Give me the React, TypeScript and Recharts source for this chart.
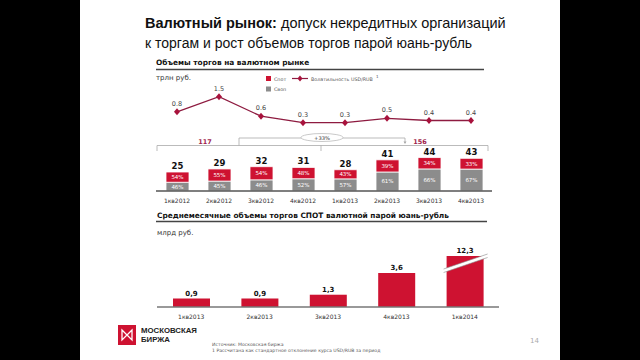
import React from 'react';
import { BarChart, Bar, XAxis, YAxis, LineChart, Line, LabelList } from 'recharts';

// ---- data ----
const quarters = ['1кв2012', '2кв2012', '3кв2012', '4кв2012', '1кв2013', '2кв2013', '3кв2013', '4кв2013'];
const volatility = [0.8, 1.5, 0.6, 0.3, 0.3, 0.5, 0.4, 0.4];
const totals = [25, 29, 32, 31, 28, 41, 44, 43];
const spotPct = [54, 55, 54, 48, 43, 39, 34, 33];
const swapPct = [46, 45, 46, 52, 57, 61, 66, 67];

const cnyQuarters = ['1кв2013', '2кв2013', '3кв2013', '4кв2013', '1кв2014'];
const cnySpot = [0.9, 0.9, 1.3, 3.6, 12.3];
const CNY_AXIS_CAP = 5.4; // axis break level

const sum2012 = totals.slice(0, 4).reduce((a, b) => a + b, 0);
const sum2013 = totals.slice(4).reduce((a, b) => a + b, 0);
const growth = Math.round((sum2013 / sum2012 - 1) * 100);

const volRows = quarters.map((q, i) => ({ cat: q, vol: volatility[i] }));
const barRows = quarters.map((q, i) => ({
  cat: q,
  total: totals[i],
  spotPct: spotPct[i],
  swapPct: swapPct[i],
  spot: (totals[i] * spotPct[i]) / 100,
  swap: (totals[i] * swapPct[i]) / 100,
}));
const cnyRows = cnyQuarters.map((q, i) => ({
  cat: q,
  value: cnySpot[i],
  shown: Math.min(cnySpot[i], CNY_AXIS_CAP),
}));

const RED = '#CE1231';
const GREY = '#8C8C8C';
const MAROON = '#8E1B40';
const FONT = '"DejaVu Sans", Verdana, sans-serif';
const TITLE_FONT = '"Liberation Sans", Arial, sans-serif';

const Diamond = (props: any) => {
  const { cx, cy, index } = props;
  if (cx == null || cy == null) return null;
  return (
    <path
      key={'d' + index}
      d={`M${cx},${cy - 3.5}L${cx + 3},${cy}L${cx},${cy + 3.5}L${cx - 3},${cy}Z`}
      fill="#A8123C"
    />
  );
};

const BrokenBar = (props: any) => {
  const { x, y, width, height, payload } = props;
  const broken = payload && payload.value > payload.shown;
  return (
    <g>
      <rect x={x} y={y} width={width} height={height} fill={RED} />
      {broken && (
        <g>
          <path
            d={`M${x - 3},${y + 13}L${x + width + 4},${y - 2}L${x + width + 4},${y + 1.5}L${x - 3},${y + 16.5}Z`}
            fill="#fff"
          />
          <path d={`M${x - 3},${y + 13}L${x + width + 4},${y - 2}`} stroke="#888" strokeWidth={0.6} />
          <path d={`M${x - 3},${y + 16.5}L${x + width + 4},${y + 1.5}`} stroke="#888" strokeWidth={0.6} />
        </g>
      )}
    </g>
  );
};

export default function App() {
  return (
    <div style={{ position: 'absolute', left: 0, top: 0, width: 640, height: 360, background: '#000', overflow: 'hidden' }}>
      <div style={{ position: 'absolute', left: 80, top: 0, width: 480, height: 360, background: '#fff' }} />

      {/* volatility line */}
      <div style={{ position: 'absolute', left: 156, top: 75 }}>
        <LineChart width={336} height={65} data={volRows} margin={{ top: 0, right: 0, bottom: 0, left: 0 }}>
          <XAxis dataKey="cat" hide padding={{ left: 21, right: 21 }} />
          <YAxis hide domain={[-0.5, 2.5]} />
          <Line dataKey="vol" stroke={MAROON} strokeWidth={1.3} dot={Diamond} isAnimationActive={false}>
            <LabelList
              dataKey="vol"
              position="top"
              offset={6}
              formatter={(v: any) => Number(v).toFixed(1)}
              style={{ fontSize: 6.5, fill: '#444', fontFamily: FONT }}
            />
          </Line>
        </LineChart>
      </div>

      {/* volumes stacked bars */}
      <div style={{ position: 'absolute', left: 156, top: 133 }}>
        <BarChart width={336} height={78} data={barRows} margin={{ top: 20, right: 0, bottom: 0, left: 0 }} barSize={23}>
          <XAxis
            dataKey="cat"
            axisLine={{ stroke: '#555', strokeWidth: 1.5 }}
            tickLine={false}
            interval={0}
            height={20}
            tick={{ fontSize: 6, fill: '#333', fontFamily: FONT }}
          />
          <YAxis hide domain={[0, 50]} />
          <Bar dataKey="swap" stackId="a" fill={GREY} stroke="#fff" strokeWidth={0.8} isAnimationActive={false}>
            <LabelList
              dataKey="swapPct"
              position="center"
              formatter={(v: any) => v + '%'}
              style={{ fontSize: 5.5, fill: '#fff', fontFamily: FONT }}
            />
          </Bar>
          <Bar dataKey="spot" stackId="a" fill={RED} stroke="#fff" strokeWidth={0.8} isAnimationActive={false}>
            <LabelList
              dataKey="spotPct"
              position="center"
              formatter={(v: any) => v + '%'}
              style={{ fontSize: 5.5, fill: '#fff', fontFamily: FONT }}
            />
            <LabelList
              dataKey="total"
              position="top"
              offset={3}
              style={{ fontSize: 8.5, fill: '#111', fontWeight: 'bold', fontFamily: FONT }}
            />
          </Bar>
        </BarChart>
      </div>

      {/* CNY spot bars */}
      <div style={{ position: 'absolute', left: 157, top: 240 }}>
        <BarChart width={342} height={83} data={cnyRows} margin={{ top: 16, right: 0, bottom: 0, left: 0 }} barSize={37}>
          <XAxis
            dataKey="cat"
            axisLine={{ stroke: '#777', strokeWidth: 1.5 }}
            tickLine={false}
            interval={0}
            height={16}
            tick={{ fontSize: 6, fill: '#333', fontFamily: FONT }}
          />
          <YAxis hide domain={[0, CNY_AXIS_CAP]} />
          <Bar dataKey="shown" fill={RED} shape={BrokenBar} isAnimationActive={false}>
            <LabelList
              dataKey="value"
              position="top"
              offset={3}
              formatter={(v: any) => String(v).replace('.', ',')}
              style={{ fontSize: 7, fill: '#111', fontWeight: 'bold', fontFamily: FONT }}
            />
          </Bar>
        </BarChart>
      </div>

      {/* slide texts and annotations */}
      <svg width={640} height={360} style={{ position: 'absolute', left: 0, top: 0, pointerEvents: 'none' }}>
        <text x={145} y={28} fontFamily={TITLE_FONT} fontSize={14.5} fill="#111">
          <tspan fontWeight="bold">Валютный рынок:</tspan> допуск некредитных организаций
        </text>
        <text x={145} y={48} fontFamily={TITLE_FONT} fontSize={14} fill="#111">
          к торгам и рост объемов торгов парой юань-рубль
        </text>

        <text x={156} y={65} fontFamily={FONT} fontSize={7.4} fontWeight="bold" fill="#111">
          Объемы торгов на валютном рынке
        </text>
        <line x1={156} y1={69.5} x2={484} y2={69.5} stroke="#444" strokeWidth={1.5} />
        <text x={156} y={80} fontFamily={FONT} fontSize={7} fill="#333">трлн руб.</text>

        {/* legend */}
        <rect x={266} y={76} width={5} height={5} fill={RED} />
        <text x={274} y={80.5} fontFamily={FONT} fontSize={4.8} fill="#555">Спот</text>
        <line x1={292} y1={78.5} x2={308} y2={78.5} stroke={MAROON} strokeWidth={1.2} />
        <path d="M300,75.5L302.5,78.5L300,81.5L297.5,78.5Z" fill="#A8123C" />
        <text x={311} y={80.5} fontFamily={FONT} fontSize={4.8} fill="#555">Волатильность USD/RUB</text>
        <text x={376} y={77.5} fontFamily={FONT} fontSize={4} fill="#555">1</text>
        <rect x={266} y={86.5} width={5} height={5} fill={GREY} />
        <text x={274} y={91} fontFamily={FONT} fontSize={4.8} fill="#555">Своп</text>

        {/* bracket */}
        <path d="M157,151V145.5H488V151" fill="none" stroke="#aaa" strokeWidth={0.8} />
        <path d="M321,145.5V151" fill="none" stroke="#aaa" strokeWidth={0.8} />
        <path d="M239,145.5V138H405V143" fill="none" stroke="#aaa" strokeWidth={0.8} />
        <path d="M403.5,141.5L405,144L406.5,141.5Z" fill="#aaa" />
        <ellipse cx={322} cy={137.5} rx={21} ry={4} fill="#fff" stroke="#bbb" strokeWidth={0.8} />
        <text x={322} y={139.5} textAnchor="middle" fontFamily={FONT} fontSize={5.2} fill="#333">+{growth}%</text>
        <text x={205} y={144} textAnchor="middle" fontFamily={FONT} fontSize={6.5} fontWeight="bold" fill="#A01E4C">{sum2012}</text>
        <text x={420} y={144} textAnchor="middle" fontFamily={FONT} fontSize={6.5} fontWeight="bold" fill="#A01E4C">{sum2013}</text>

        <text x={157} y={218} fontFamily={FONT} fontSize={7.4} fontWeight="bold" fill="#111">
          Среднемесячные объемы торгов СПОТ валютной парой юань-рубль
        </text>
        <line x1={156} y1={221.5} x2={487} y2={221.5} stroke="#444" strokeWidth={1.5} />
        <text x={157} y={235} fontFamily={FONT} fontSize={7} fill="#333">млрд руб.</text>

        {/* logo */}
        <rect x={118} y={325} width={18} height={20} fill={RED} />
        <path d="M122,330L127,335L122,340Z M132,330L127,335L132,340Z" fill="none" stroke="#fff" strokeWidth={1.3} />
        <text x={141} y={333} fontFamily={TITLE_FONT} fontSize={7.8} fontWeight="bold" fill="#222">МОСКОВСКАЯ</text>
        <text x={141} y={342} fontFamily={TITLE_FONT} fontSize={7.8} fontWeight="bold" fill="#222">БИРЖА</text>

        <text x={212} y={346} fontFamily={FONT} fontSize={4.6} fill="#555">Источник: Московская биржа</text>
        <text x={212} y={352} fontFamily={FONT} fontSize={4.6} fill="#555">
          1 Рассчитана как стандартное отклонение курса USD/RUB за период
        </text>
        <text x={530} y={343} fontFamily={FONT} fontSize={7} fill="#aaa">14</text>
      </svg>
    </div>
  );
}
